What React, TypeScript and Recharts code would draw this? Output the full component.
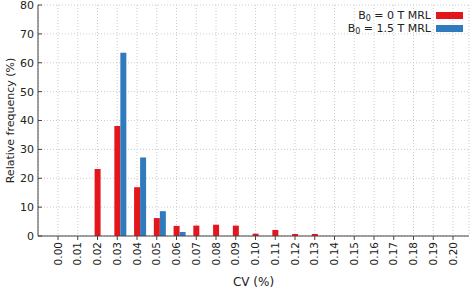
import { BarChart, Bar, XAxis, YAxis, CartesianGrid } from 'recharts';

const cvLabels = ['0.00', '0.01', '0.02', '0.03', '0.04', '0.05', '0.06', '0.07', '0.08', '0.09', '0.10',
  '0.11', '0.12', '0.13', '0.14', '0.15', '0.16', '0.17', '0.18', '0.19', '0.20'];
const mrl0 = [0, 0, 23.2, 38.1, 16.9, 6.2, 3.5, 3.6, 3.9, 3.6, 0.8, 2.1, 0.7, 0.7, 0, 0, 0, 0, 0, 0, 0];
const mrl15 = [0, 0, 0, 63.5, 27.2, 8.6, 1.4, 0, 0, 0, 0, 0, 0, 0, 0, 0, 0, 0, 0, 0, 0];
const yTicks = [0, 10, 20, 30, 40, 50, 60, 70, 80];
const seriesNames = ['0', '1.5'];

const RED = '#e3161c';
const BLUE = '#2f7bbd';
const AXIS = '#444';
const FONT = '"DejaVu Sans", sans-serif';

const data = cvLabels.map((label, i) => ({ i, label, mrl0: mrl0[i], mrl15: mrl15[i] }));
const xTicks = cvLabels.map((_, i) => i);

const XTick = ({ x, y, payload }: any) => (
  <text
    transform={`translate(${x},${y}) rotate(-90)`}
    textAnchor="end"
    dy="0.35em"
    fontSize={10.5}
    fontFamily={FONT}
    fill="#222"
  >
    {cvLabels[payload.value]}
  </text>
);

const NoTick = () => <g />;

// legend drawn over the plot, top right
const LegendBox = () => (
  <div style={{ position: 'absolute', top: 9, right: 11, fontFamily: FONT, fontSize: 11, color: '#222' }}>
    {seriesNames.map((v, k) => (
      <div key={v} style={{ display: 'flex', alignItems: 'center', justifyContent: 'flex-end', height: 13, lineHeight: '11px' }}>
        <span style={{ whiteSpace: 'nowrap' }}>
          B<span style={{ fontSize: 8, position: 'relative', top: 2 }}>0</span> = {v} T MRL
        </span>
        <span style={{ display: 'inline-block', width: 27, height: 7, background: k === 0 ? RED : BLUE, marginLeft: 5 }} />
      </div>
    ))}
  </div>
);

export default function App() {
  return (
    <div style={{ position: 'absolute', left: 0, top: 0, width: 474, height: 289, background: '#fff' }}>
      <BarChart
        width={474}
        height={289}
        data={data}
        margin={{ top: 5, right: 5, left: 0, bottom: 0 }}
        barSize={6}
        barGap={0}
      >
        <CartesianGrid stroke="#ccc" strokeDasharray="1 2" />
        <XAxis
          dataKey="i"
          type="number"
          domain={[-1.013, 20.81]}
          ticks={xTicks}
          interval={0}
          allowDataOverflow
          height={53}
          stroke={AXIS}
          tickSize={4}
          tickMargin={2}
          tick={<XTick />}
          label={{ value: 'CV (%)', position: 'insideBottom', offset: 3, style: { fontFamily: FONT, fontSize: 12, fill: '#222' } }}
        />
        <XAxis
          xAxisId="top"
          orientation="top"
          dataKey="i"
          type="number"
          domain={[-1.013, 20.81]}
          ticks={xTicks}
          interval={0}
          allowDataOverflow
          height={0}
          stroke={AXIS}
          tickSize={4}
          tick={<NoTick />}
        />
        <XAxis
          xAxisId="bars"
          dataKey="i"
          type="number"
          domain={[-1.163, 20.66]}
          allowDataOverflow
          hide
        />
        <YAxis
          domain={[0, 80]}
          ticks={yTicks}
          interval={0}
          width={38}
          stroke={AXIS}
          tickSize={-4}
          tickMargin={8}
          tick={{ fontSize: 11, fontFamily: FONT, fill: '#222' }}
          label={{
            value: 'Relative frequency (%)',
            angle: -90,
            position: 'insideLeft',
            offset: 10,
            style: { textAnchor: 'middle', fontFamily: FONT, fontSize: 11, fill: '#222' },
          }}
        />
        <YAxis
          yAxisId="right"
          orientation="right"
          domain={[0, 80]}
          ticks={yTicks}
          interval={0}
          width={0}
          stroke={AXIS}
          tickSize={-4}
          tick={<NoTick />}
        />
        <Bar xAxisId="bars" dataKey="mrl0" fill={RED} isAnimationActive={false} />
        <Bar xAxisId="bars" dataKey="mrl15" fill={BLUE} isAnimationActive={false} />
      </BarChart>
      <LegendBox />
    </div>
  );
}
